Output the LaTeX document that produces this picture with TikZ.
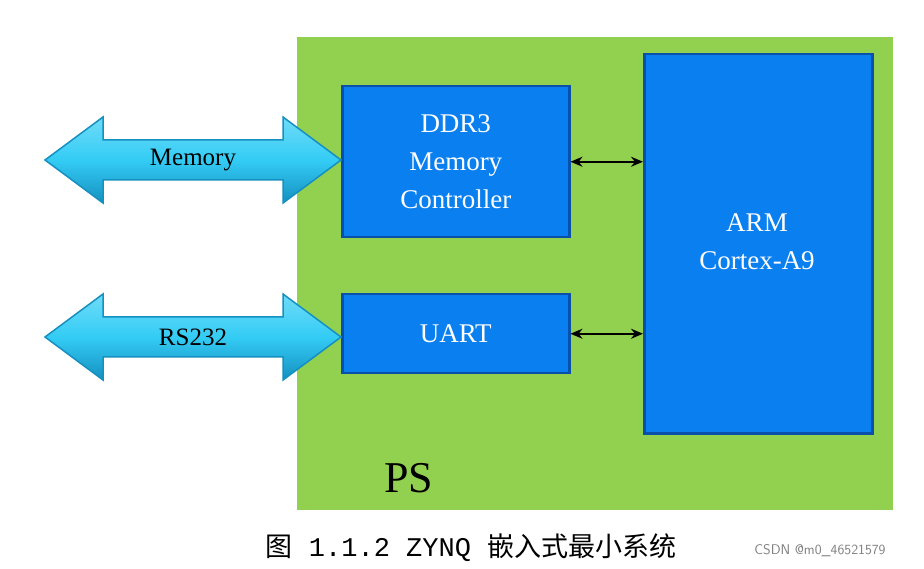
\documentclass[tikz,border=0pt]{standalone}
\usepackage{fontspec}
\setmainfont{Liberation Serif}
\newfontfamily\cjk{Noto Sans CJK SC}
\newfontfamily\mymono{Liberation Mono}
\usetikzlibrary{arrows.meta}
\definecolor{psgreen}{HTML}{92D050}
\definecolor{boxblue}{HTML}{0A7FF0}
\definecolor{boxedge}{HTML}{0A4FA8}
\definecolor{arrcyan}{HTML}{33CCF5}
\definecolor{arrdark}{HTML}{1590C0}
\begin{document}
\begin{tikzpicture}[x=1pt,y=-1pt,
  blk/.style={draw=boxedge,line width=2.5pt,fill=boxblue,inner sep=0pt,anchor=north west,
    font=\fontsize{27}{38}\selectfont,text=white,align=center},
  big/.style={draw=arrdark,line width=1.5pt,top color=arrcyan!70!white,bottom color=arrdark,middle color=arrcyan},
  lbl/.style={font=\fontsize{25}{28}\selectfont,text=black},
  small/.style={{Stealth[length=12pt,width=10pt]}-{Stealth[length=12pt,width=10pt]},line width=2pt}]
\useasboundingbox (0,0) rectangle (924,569);
\fill[white] (0,0) rectangle (924,569);
\fill[psgreen] (297,37) rectangle (893,510);
\node[blk,minimum width=227pt,minimum height=151pt] (ddr) at (341,85) {DDR3\\Memory\\Controller};
\node[blk,minimum width=227pt,minimum height=79pt] (uart) at (341,293) {UART};
\node[blk,minimum width=228pt,minimum height=379pt] (arm) at (643,53) {};
\node[font=\fontsize{27}{38}\selectfont,text=white,align=center] (armt) at (757,242) {ARM\\Cortex-A9};
\draw[small] (ddr.east) -- (ddr.east -| arm.west);
\draw[small] (uart.east) -- (uart.east -| arm.west);
\foreach \n/\y/\t in {mem/160/Memory, rs/337/RS232}{
  \draw[big] (45,\y) -- (103,\y-43) -- (103,\y-20) -- (283,\y-20) -- (283,\y-43) -- (341,\y)
    -- (283,\y+43) -- (283,\y+20) -- (103,\y+20) -- (103,\y+43) -- cycle;
  \node[lbl] (\n) at (193,\y) {\t};
}
\node[font=\fontsize{44}{50}\selectfont] (ps) at (409,478) {PS};
\node[font=\fontsize{27}{30}\selectfont] (cap) at (471,548) {\cjk 图\mymono{} 1.1.2 ZYNQ \cjk 嵌入式最小系统};
\node[font=\fontsize{14}{16}\selectfont\sffamily,text=gray] (wm) at (820,551) {CSDN @m0\_46521579};
\end{tikzpicture}
\end{document}
